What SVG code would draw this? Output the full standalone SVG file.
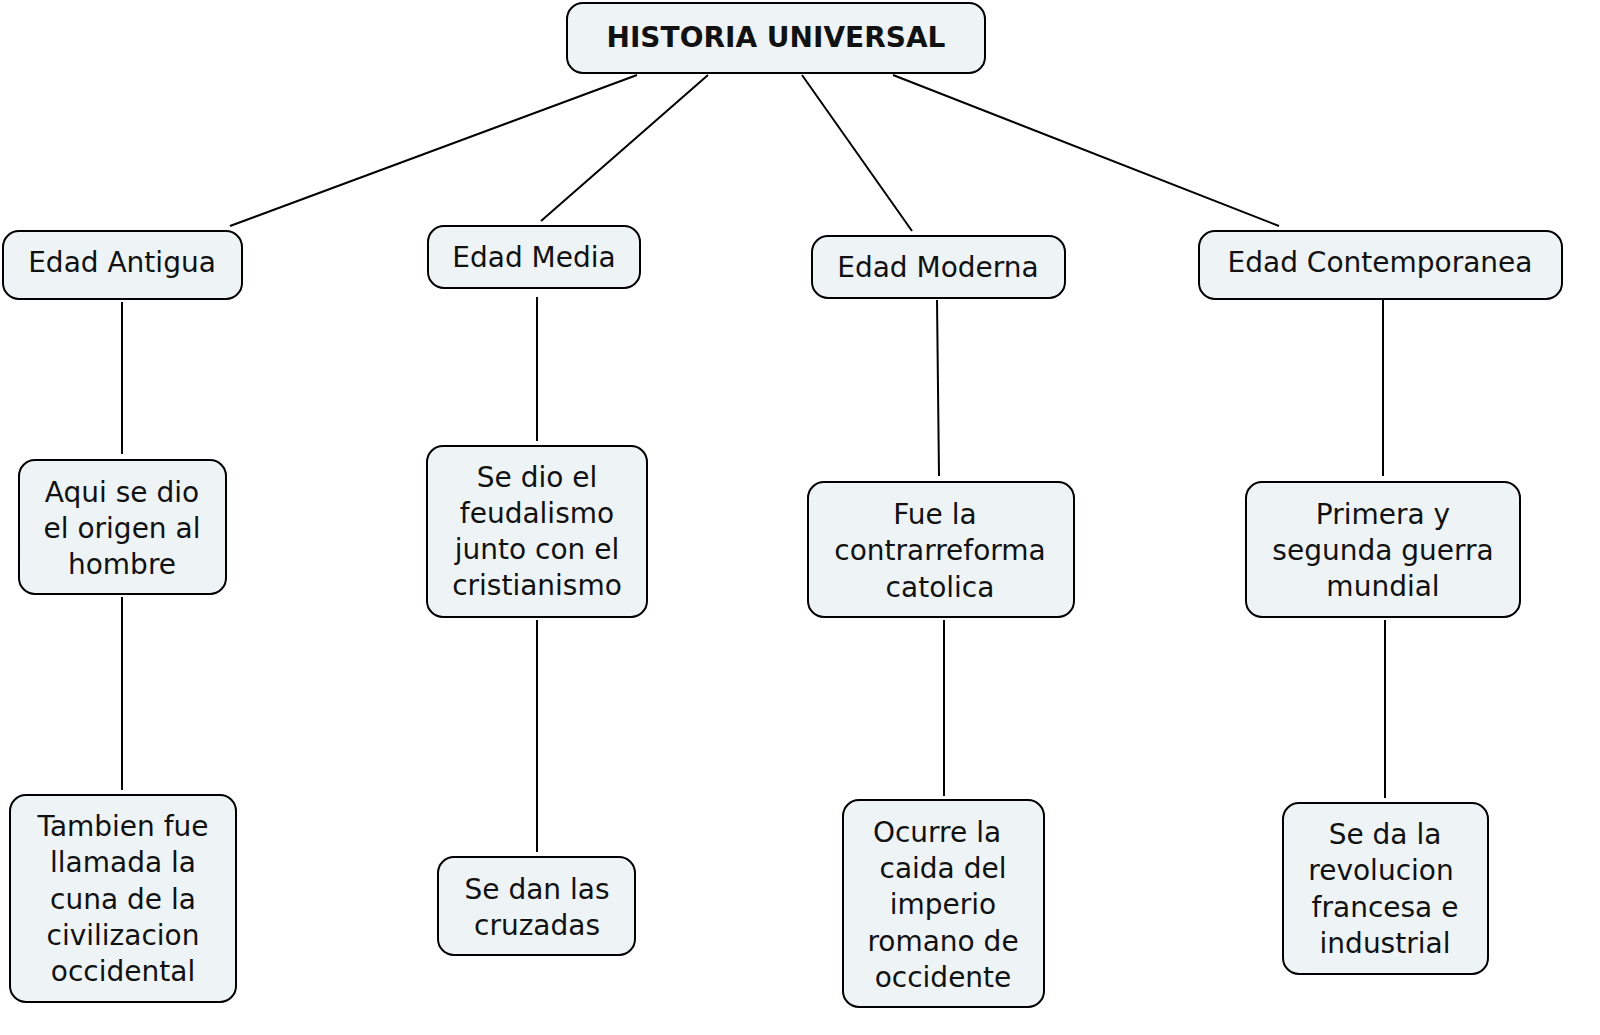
<svg xmlns="http://www.w3.org/2000/svg" width="1600" height="1035" viewBox="0 0 1600 1035">
<style>
.n rect{fill:#eef4f6;stroke:#000;stroke-width:2}
.n text{font-family:"DejaVu Sans",Verdana,sans-serif;font-size:28px;text-anchor:middle;fill:#111}
#c line{stroke:#000;stroke-width:2}
</style>
<rect width="1600" height="1035" fill="#fff"/>
<g id="c">
<line x1="637" y1="75" x2="230" y2="226"/><line x1="708" y1="75" x2="541" y2="221"/>
<line x1="802" y1="75" x2="912" y2="231"/><line x1="893" y1="75" x2="1279" y2="226"/>
<line x1="122" y1="302" x2="122" y2="454"/><line x1="537" y1="297" x2="537" y2="441"/>
<line x1="937" y1="300" x2="939" y2="476"/><line x1="1383" y1="300" x2="1383" y2="476"/>
<line x1="122" y1="597" x2="122" y2="790"/><line x1="537" y1="620" x2="537" y2="852"/>
<line x1="944" y1="620" x2="944" y2="796"/><line x1="1385" y1="620" x2="1385" y2="798"/>
</g>
<g id="root" class="n"><rect x="567" y="3" width="418" height="70" rx="16"/><text x="776" y="47" font-weight="bold">HISTORIA UNIVERSAL</text></g>
<g id="antigua" class="n"><rect x="3" y="231" width="239" height="68" rx="16"/><text x="122" y="272">Edad Antigua</text></g>
<g id="media" class="n"><rect x="428" y="226" width="212" height="62" rx="16"/><text x="534" y="267">Edad Media</text></g>
<g id="moderna" class="n"><rect x="812" y="236" width="253" height="62" rx="16"/><text x="938" y="277">Edad Moderna</text></g>
<g id="contemp" class="n"><rect x="1199" y="231" width="363" height="68" rx="16"/><text x="1380" y="272">Edad Contemporanea</text></g>
<g id="a1" class="n"><rect x="19" y="460" width="207" height="134" rx="16"/><text x="122" y="502">Aqui se dio</text><text x="122" y="538">el origen al</text><text x="122" y="574">hombre</text></g>
<g id="m1" class="n"><rect x="427" y="446" width="220" height="171" rx="16"/><text x="537" y="487">Se dio el</text><text x="537" y="523">feudalismo</text><text x="537" y="559">junto con el</text><text x="537" y="595">cristianismo</text></g>
<g id="mo1" class="n"><rect x="808" y="482" width="266" height="135" rx="16"/><text x="935" y="524">Fue la</text><text x="940" y="560">contrarreforma</text><text x="940" y="597">catolica</text></g>
<g id="c1" class="n"><rect x="1246" y="482" width="274" height="135" rx="16"/><text x="1383" y="524">Primera y</text><text x="1383" y="560">segunda guerra</text><text x="1383" y="596">mundial</text></g>
<g id="a2" class="n"><rect x="10" y="795" width="226" height="207" rx="16"/><text x="123" y="836">Tambien fue</text><text x="123" y="872">llamada la</text><text x="123" y="909">cuna de la</text><text x="123" y="945">civilizacion</text><text x="123" y="981">occidental</text></g>
<g id="m2" class="n"><rect x="438" y="857" width="197" height="98" rx="16"/><text x="537" y="899">Se dan las</text><text x="537" y="935">cruzadas</text></g>
<g id="mo2" class="n"><rect x="843" y="800" width="201" height="207" rx="16"/><text x="937" y="842">Ocurre la</text><text x="943" y="878">caida del</text><text x="943" y="914">imperio</text><text x="943" y="951">romano de</text><text x="943" y="987">occidente</text></g>
<g id="c2" class="n"><rect x="1283" y="803" width="205" height="171" rx="16"/><text x="1385" y="844">Se da la</text><text x="1381" y="880">revolucion</text><text x="1385" y="917">francesa e</text><text x="1385" y="953">industrial</text></g>
</svg>
